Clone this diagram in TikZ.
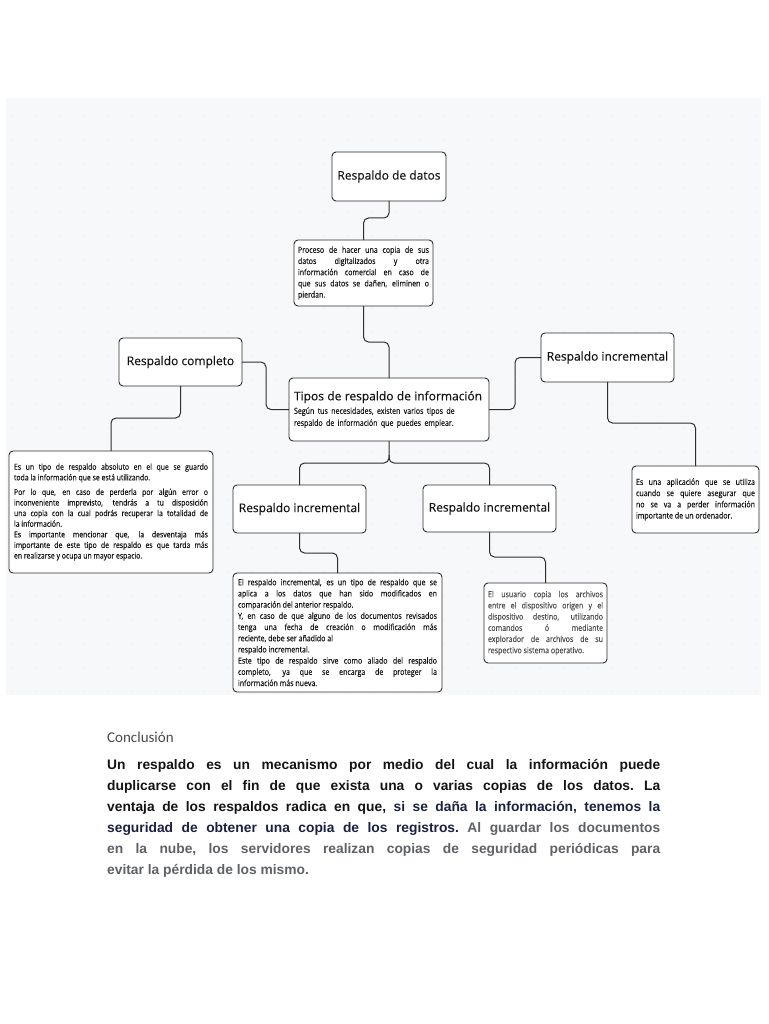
\documentclass[tikz,border=0pt]{standalone}
\usepackage{fontspec}
\setmainfont{Open Sans}
\newfontfamily\titlefont[FakeBold=0.25]{Open Sans}
\newfontfamily\descfont[FakeStretch=0.84,FakeBold=0.3]{Open Sans}
\newfontfamily\parfont{Liberation Sans}
\newfontfamily\conclfont{Carlito}
\usetikzlibrary{calc}
\definecolor{panel}{HTML}{F7F8FA}
\definecolor{dotc}{HTML}{E1E3E8}
\definecolor{edge}{HTML}{2E2E2E}
\definecolor{txt}{HTML}{141414}
\definecolor{navy}{HTML}{1B2140}
\definecolor{grayt}{HTML}{5E6166}
\definecolor{conc}{HTML}{4A4A4A}
\begin{document}
\begin{tikzpicture}[x=1pt,y=-1pt,
  box/.style={draw=edge, line width=0.9pt, fill=white, rounded corners=4pt, inner sep=0pt, outer sep=0pt},
  titlebox/.style={box, font=\titlefont\fontsize{12}{14}\selectfont, text=txt},
  descbox/.style={box, font=\descfont\fontsize{8.4}{11.2}\selectfont, text=txt, align=justify},
  link/.style={draw=edge, line width=1pt, rounded corners=5pt}]
\useasboundingbox (0,0) rectangle (768,1024);
\fill[white] (0,0) rectangle (768,1024);
% panel
\fill[panel] (6,98) rectangle (761,695);
\fill[dotc] \foreach \x in {12,24,...,756} {\foreach \y in {104,116,...,692} {(\x,\y) circle (0.6)}};

% nodes
\node[titlebox, minimum width=114, minimum height=49] (rd) at (389,176.5) {Respaldo de datos};
\node[descbox, minimum width=139, minimum height=66, text width=131] (rdd) at (363.5,273)
 {Proceso de hacer una copia de sus\linebreak datos digitalizados y otra\linebreak información comercial en caso de\linebreak que sus datos se dañen, eliminen o\linebreak pierdan.};
\node[box, minimum width=200, minimum height=63, text width=190, align=left, text=txt] (tipos) at (389,409.5)
 {{\titlefont\fontsize{12}{14}\selectfont\mbox{Tipos de respaldo de información}}\\[2pt]
  {\descfont\fontsize{8.4}{11.5}\selectfont Según tus necesidades, existen varios tipos de\\ respaldo de información que puedes emplear.}};
\node[titlebox, minimum width=123, minimum height=48] (rc) at (180.5,362) {Respaldo completo};
\node[descbox, minimum width=204, minimum height=122, text width=194, font=\descfont\fontsize{8.2}{10.6}\selectfont] (rcd) at (111,512)
 {Es un tipo de respaldo absoluto en el que se guardo\linebreak toda la información que se está utilizando.\\[4pt]
 Por lo que, en caso de perderla por algún error o\linebreak inconveniente imprevisto, tendrás a tu disposición\linebreak una copia con la cual podrás recuperar la totalidad de\linebreak la información.\\
 Es importante mencionar que, la desventaja más\linebreak importante de este tipo de respaldo es que tarda más\linebreak en realizarse y ocupa un mayor espacio.};
\node[titlebox, minimum width=133, minimum height=49] (ri1) at (607.5,357.5) {Respaldo incremental};
\node[descbox, minimum width=127, minimum height=67, text width=119] (ri1d) at (695.5,499.5)
 {Es una aplicación que se utiliza\linebreak cuando se quiere asegurar que\linebreak no se va a perder información\linebreak importante de un ordenador.};
\node[titlebox, minimum width=133, minimum height=48] (ri2) at (299.5,509) {Respaldo incremental};
\node[descbox, minimum width=209, minimum height=119, text width=199] (ri2d) at (337.5,632.5)
 {El respaldo incremental, es un tipo de respaldo que se\linebreak aplica a los datos que han sido modificados en\linebreak comparación del anterior respaldo.\\
 Y, en caso de que alguno de los documentos revisados\linebreak tenga una fecha de creación o modificación más\linebreak reciente, debe ser añadido al\\ respaldo incremental.\\
 Este tipo de respaldo sirve como aliado del respaldo\linebreak completo, ya que se encarga de proteger la\linebreak información más nueva.};
\node[titlebox, minimum width=133, minimum height=47] (ri3) at (489.5,508.5) {Respaldo incremental};
\node[descbox, minimum width=123, minimum height=80, text width=115, text=txt!75] (ri3d) at (545.5,623)
 {El usuario copia los archivos\linebreak entre el dispositivo origen y el\linebreak dispositivo destino, utilizando\linebreak comandos ó mediante\linebreak explorador de archivos de su\linebreak respectivo sistema operativo.};

% connectors
\draw[link] (rd.south) -- (rd.south |- 0,218) -- (rdd.north |- 0,218) -- (rdd.north);
\draw[link] (rdd.south) -- (rdd.south |- 0,342) -- (tipos.north |- 0,342) -- (tipos.north);
\draw[link] (rc.east) -- (rc.east -| 266,0) -- (tipos.west -| 266,0) -- (tipos.west);
\draw[link] (rc.south) -- (rc.south |- 0,418) -- (rcd.north |- 0,418) -- (rcd.north);
\draw[link] (tipos.east) -- (tipos.east -| 515,0) -- (ri1.west -| 515,0) -- (ri1.west);
\draw[link] (ri1.south) -- (ri1.south |- 0,423) -- (ri1d.north |- 0,423) -- (ri1d.north);
\draw[link] (tipos.south) -- (tipos.south |- 0,463) -- (ri2.north |- 0,463) -- (ri2.north);
\draw[link] (tipos.south |- 0,455) -- (tipos.south |- 0,463) -- (ri3.north |- 0,463) -- (ri3.north);
\draw[link] (ri2.south) -- (ri2.south |- 0,553) -- (ri2d.north |- 0,553) -- (ri2d.north);
\draw[link] (ri3.south) -- (ri3.south |- 0,557) -- (ri3d.north |- 0,557) -- (ri3d.north);

% conclusion
\node[anchor=west, inner sep=0, font=\conclfont\fontsize{15}{18}\selectfont, text=conc] (concl) at (107,737) {Conclusión};
\node[anchor=north west, inner sep=0, text width=553, align=justify, font=\parfont\bfseries\fontsize{13.8}{21}\selectfont\frenchspacing, text=txt] (para) at (107,759)
 {Un respaldo es un mecanismo por medio del cual la información puede\linebreak duplicarse con el fin de que exista una o varias copias de los datos. La\linebreak ventaja de los respaldos radica en que, \textcolor{navy}{si se daña la información, tenemos la\linebreak seguridad de obtener una copia de los registros.} \textcolor{grayt}{Al guardar los documentos\linebreak en la nube, los servidores realizan copias de seguridad periódicas para\linebreak evitar la pérdida de los mismo.}};
\end{tikzpicture}
\end{document}
